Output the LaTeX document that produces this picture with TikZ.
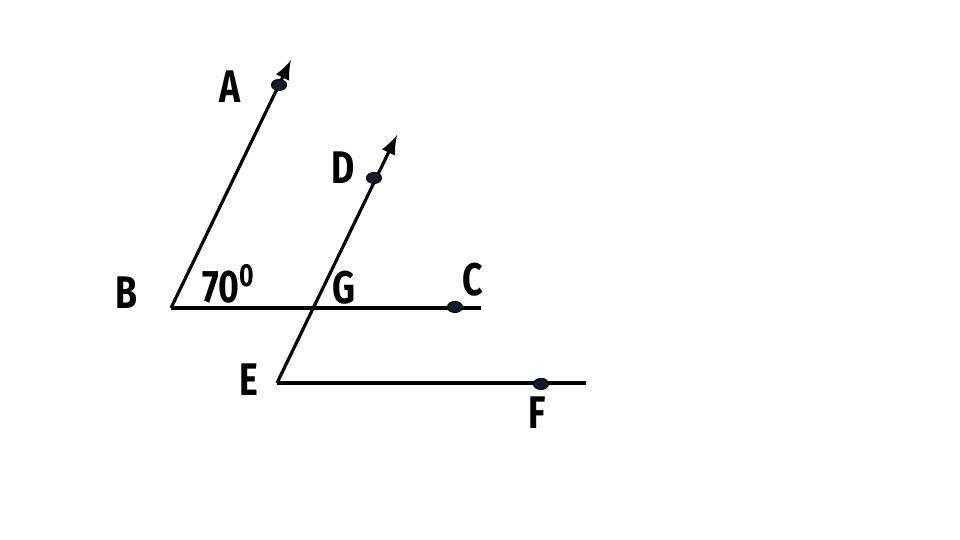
\documentclass[tikz,border=0pt]{standalone}
\usepackage{fontspec}
\setmainfont{Fira Sans}[FakeStretch=0.78]
\usetikzlibrary{shapes.geometric, arrows}
\definecolor{dotnavy}{HTML}{101C2C}
\tikzstyle{ray} = [line width=0.9pt,-latex]
\tikzstyle{seg} = [line width=0.9pt]
\tikzstyle{dot} = [ellipse, fill=dotnavy, draw=black, line width=0.3pt, minimum width=0.15cm, minimum height=0.11cm, inner sep=0pt]
\tikzstyle{lbl} = [font=\bfseries\fontsize{13}{13}\selectfont, inner sep=0pt]

\begin{document}
\begin{tikzpicture}[x=0.01cm,y=0.01cm]
\useasboundingbox (0,0) rectangle (960,540);
\coordinate (B) at (171,232);
\coordinate (Cend) at (481,232);
\coordinate (tipA) at (291,480);
\coordinate (E) at (277,157);
\coordinate (tipD) at (397,405);
\coordinate (Fend) at (586,157);
\draw [ray] (B) -- (tipA);
\draw [ray] (E) -- (tipD);
\draw [seg] (B) -- (Cend);
\draw [seg] (E) -- (Fend);
\node (A) [dot] at (279,455) {};
\node (D) [dot] at (374,362) {};
\node (C) [dot] at (455,233) {};
\node (F) [dot] at (541,156) {};
\node (labA) [lbl] at (230,453) {A};
\node (labD) [lbl] at (343,372) {D};
\node (labB) [lbl] at (127,247) {B};
\node (labAng) [lbl] at (229,256) {70\textsuperscript{0}};
\node (labG) [lbl] at (344,252) {G};
\node (labC) [lbl] at (473,260) {C};
\node (labE) [lbl] at (249,160) {E};
\node (labF) [lbl] at (537,127) {F};
\end{tikzpicture}
\end{document}
